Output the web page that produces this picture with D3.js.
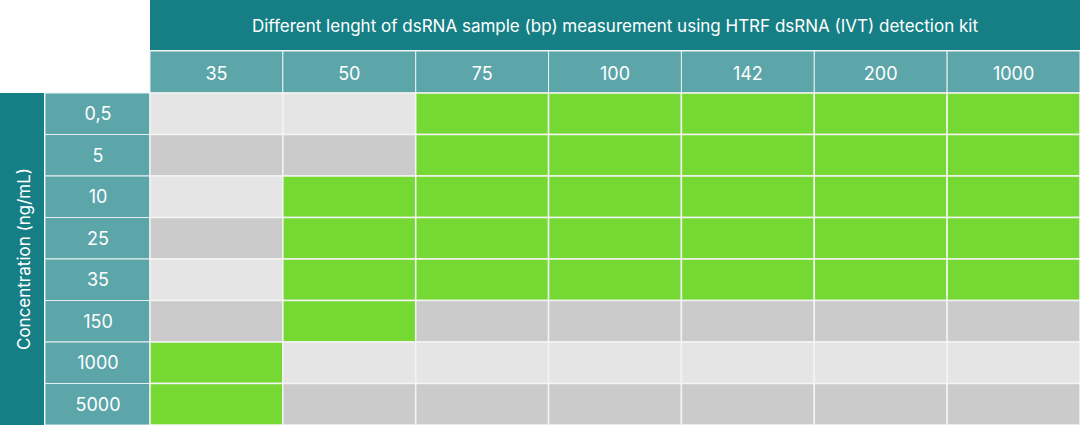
<!DOCTYPE html>
<html><head><meta charset="utf-8">
<script src="https://cdn.jsdelivr.net/npm/d3@7"></script>
<style>body{margin:0;background:#fff;} text{font-family:Inter, "Open Sans", sans-serif;}</style>
</head><body><svg id="chart" width="1080" height="425"></svg>
<script>
var title = 'Different lenght of dsRNA sample (bp) measurement using HTRF dsRNA (IVT) detection kit';
var lengths = ['35', '50', '75', '100', '142', '200', '1000'];
var concentrations = ['0,5', '5', '10', '25', '35', '150', '1000', '5000'];
// lengths detected (green) for each concentration
var detected = [
	['75', '100', '142', '200', '1000'],
	['75', '100', '142', '200', '1000'],
	['50', '75', '100', '142', '200', '1000'],
	['50', '75', '100', '142', '200', '1000'],
	['50', '75', '100', '142', '200', '1000'],
	['50'],
	['35'],
	['35']
];

var svg = d3.select('#chart');
var dark = '#167f86', light = '#5ca6aa', green = '#76d933';

var x = d3.scaleBand().domain(lengths).range([150, 1080]);
var y = d3.scaleBand().domain(concentrations).range([93, 425]);

// title band
svg.append('rect').attr('x', 150).attr('y', 0).attr('width', 930).attr('height', 50).attr('fill', dark);
svg.append('text').attr('x', 615).attr('y', 26).attr('text-anchor', 'middle').attr('dominant-baseline', 'central')
	.attr('fill', '#fff').attr('font-size', 17).text(title);

// left band
svg.append('rect').attr('x', 0).attr('y', 93).attr('width', 44).attr('height', 332).attr('fill', dark);
svg.append('text').attr('transform', 'translate(24,259) rotate(-90)').attr('text-anchor', 'middle')
	.attr('dominant-baseline', 'central').attr('fill', '#fff').attr('font-size', 17).text('Concentration (ng/mL)');

// column headers
svg.selectAll('rect.col').data(lengths).enter().append('rect')
	.attr('x', function(d) { return x(d); }).attr('y', 51)
	.attr('width', x.bandwidth()).attr('height', 42).attr('fill', light)
	.attr('stroke', '#e8f1f1').attr('stroke-width', 1);
svg.selectAll('text.col').data(lengths).enter().append('text')
	.attr('x', function(d) { return x(d) + x.bandwidth() / 2; }).attr('y', 73)
	.attr('text-anchor', 'middle').attr('dominant-baseline', 'central')
	.attr('fill', '#fff').attr('font-size', 18).text(function(d) { return d; });

// row headers
svg.selectAll('rect.row').data(concentrations).enter().append('rect')
	.attr('x', 45).attr('y', function(d) { return y(d); })
	.attr('width', 105).attr('height', y.bandwidth()).attr('fill', light)
	.attr('stroke', '#e8f1f1').attr('stroke-width', 1);
svg.selectAll('text.row').data(concentrations).enter().append('text')
	.attr('x', 98).attr('y', function(d) { return y(d) + y.bandwidth() / 2; })
	.attr('text-anchor', 'middle').attr('dominant-baseline', 'central')
	.attr('fill', '#fff').attr('font-size', 18).text(function(d) { return d; });

// cells
var cells = [];
concentrations.forEach(function(c, i) {
	lengths.forEach(function(l) {
		cells.push({c: c, l: l, i: i, on: detected[i].indexOf(l) >= 0});
	});
});
svg.selectAll('rect.cell').data(cells).enter().append('rect')
	.attr('x', function(d) { return x(d.l); }).attr('y', function(d) { return y(d.c); })
	.attr('width', x.bandwidth()).attr('height', y.bandwidth())
	.attr('fill', function(d) { return d.on ? green : (d.i % 2 ? '#cbcbcb' : '#e5e5e5'); })
	.attr('stroke', '#f4f4f4').attr('stroke-width', 1.5);
</script></body></html>
